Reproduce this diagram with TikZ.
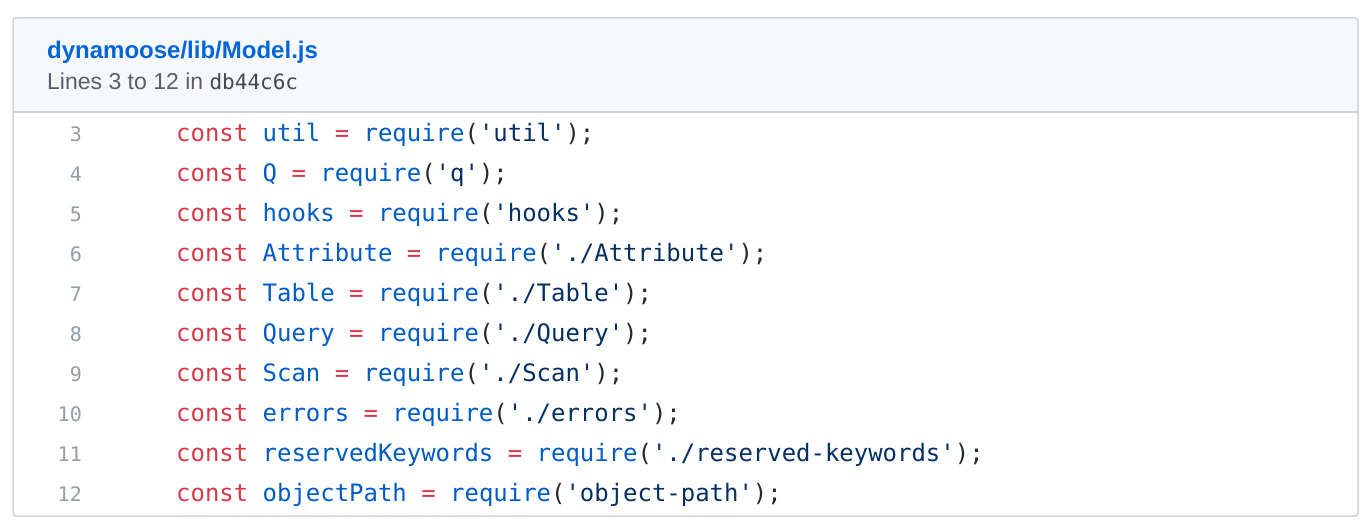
\documentclass[tikz,border=0pt]{standalone}
\usepackage{fontspec}
\setmainfont{Liberation Sans}
\setsansfont{Liberation Sans}
\setmonofont{DejaVu Sans Mono}
\definecolor{kw}{HTML}{D73A49}
\definecolor{id}{HTML}{005CC5}
\definecolor{st}{HTML}{032F62}
\definecolor{tx}{HTML}{24292E}
\definecolor{ln}{HTML}{959DA5}
\definecolor{hdr}{HTML}{F6F8FA}
\definecolor{brd}{HTML}{D1D5DA}
\definecolor{lnk}{HTML}{0366D6}
\definecolor{mut}{HTML}{586069}
\newcommand{\K}[1]{\textcolor{kw}{#1}}
\newcommand{\I}[1]{\textcolor{id}{#1}}
\newcommand{\St}[1]{\textcolor{st}{#1}}
\newcommand{\T}[1]{\textcolor{tx}{#1}}
\newcommand{\Rq}[2]{\K{const} \I{#1} \K{=} \I{require}\T{(}\St{'#2'}\T{);}}
\begin{document}
\begin{tikzpicture}[x=1pt,y=-1pt,
  code/.style={anchor=base west,inner sep=0pt,font=\fontsize{23.95}{26}\ttfamily},
  num/.style={anchor=base east,inner sep=0pt,text=ln,font=\fontsize{20}{24}\ttfamily}]
\useasboundingbox (0,0) rectangle (1372,532);
\fill[white] (0,0) rectangle (1372,532);
\fill[hdr,rounded corners=3pt] (13,18) rectangle (1358,112);
\fill[white] (13,112) rectangle (1358,516);
\draw[brd,line width=1.5pt,rounded corners=3pt] (13,18) rectangle (1358,516);
\draw[brd,line width=1.2pt] (13,112) -- (1358,112);
\node[anchor=base west,inner sep=0pt,text=lnk,font=\fontsize{24}{26}\bfseries\sffamily] (title) at (47,59) {dynamoose/lib/Model.js};
\node[anchor=base west,inner sep=0pt,text=mut,font=\fontsize{23}{26}\sffamily] (sub) at (47,90) {Lines 3 to 12 in \fontsize{21}{24}\ttfamily\textcolor{tx!85}{db44c6c}};
\foreach \n in {3,...,12}{
  \node[num] (n\n) at (82,141+40*\n-120) {\n};
}
\node[code] (c3) at (176,141) {\Rq{util}{util}};
\node[code] (c4) at (176,181) {\Rq{Q}{q}};
\node[code] (c5) at (176,221) {\Rq{hooks}{hooks}};
\node[code] (c6) at (176,261) {\Rq{Attribute}{./Attribute}};
\node[code] (c7) at (176,301) {\Rq{Table}{./Table}};
\node[code] (c8) at (176,341) {\Rq{Query}{./Query}};
\node[code] (c9) at (176,381) {\Rq{Scan}{./Scan}};
\node[code] (c10) at (176,421) {\Rq{errors}{./errors}};
\node[code] (c11) at (176,461) {\Rq{reservedKeywords}{./reserved-keywords}};
\node[code] (c12) at (176,501) {\Rq{objectPath}{object-path}};
\end{tikzpicture}
\end{document}
